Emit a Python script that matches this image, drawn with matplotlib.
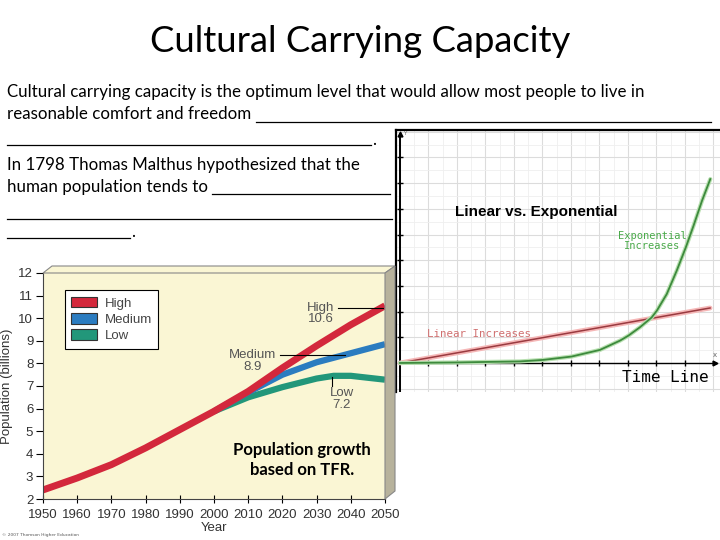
import matplotlib.pyplot as plt
from matplotlib.patches import Patch, Polygon
from matplotlib.lines import Line2D

# ---- data: population projections (billions) ----
years = [1950, 1960, 1970, 1980, 1990, 2000, 2010, 2020, 2030, 2040, 2050]
high = [2.4, 2.93, 3.52, 4.26, 5.07, 5.88, 6.76, 7.8, 8.78, 9.71, 10.55]
proj_years = [2000, 2010, 2020, 2030, 2035, 2040, 2050]
medium = [5.88, 6.72, 7.5, 8.05, 8.25, 8.45, 8.85]
low = [5.88, 6.5, 6.95, 7.33, 7.45, 7.45, 7.28]
scenarios = ['High', 'Medium', 'Low']
scen_colors = ['#d3283c', '#2b7cc0', '#22977a']

# ---- data: linear vs exponential sketch ----
lin_x = [0, 10.88]
lin_y = [0, 2.14]
exp_x = [0, 1, 2, 3, 4.21, 5.03, 6.02, 7.02, 7.72, 8.01, 8.42, 8.83, 9.01, 9.36,
         9.71, 10.03, 10.3, 10.6, 10.89]
exp_y = [0, 0.01, 0.02, 0.04, 0.06, 0.12, 0.25, 0.51, 0.87, 1.06, 1.39, 1.77, 2.03, 2.68,
         3.59, 4.5, 5.34, 6.32, 7.16]

W, H = 720, 540


def px(x, y):
    return (x / W, 1 - y / H)


def rect(l, t, r, b):
    return [l / W, 1 - b / H, (r - l) / W, (b - t) / H]


fig = plt.figure(figsize=(7.2, 5.4), dpi=100)
fig.patch.set_facecolor('white')

body = ['Lato', 'DejaVu Sans']
bsize = 12.2

# Title and text
fig.text(*px(360, 42), 'Cultural Carrying Capacity', family=body, fontsize=26.3,
         ha='center', va='center')
fig.text(*px(7, 92), 'Cultural carrying capacity is the optimum level that would allow most people to live in',
         family=body, fontsize=bsize, va='center')
fig.text(*px(7, 114), 'reasonable comfort and freedom', family=body, fontsize=bsize, va='center')
fig.text(*px(7, 165), 'In 1798 Thomas Malthus hypothesized that the', family=body, fontsize=bsize, va='center')
fig.text(*px(7, 187), 'human population tends to', family=body, fontsize=bsize, va='center')
fig.text(*px(372, 140), '.', family=body, fontsize=bsize, va='center')
fig.text(*px(131, 232), '.', family=body, fontsize=bsize, va='center')

blanks = [(256, 711, 122), (7, 371, 145), (212, 390, 194), (7, 392, 219), (7, 130, 238)]
for x0, x1, yy in blanks:
    fig.add_artist(Line2D([x0 / W, x1 / W], [1 - yy / H, 1 - yy / H], color='black', lw=0.9))

# ---- left chart ----
ax = fig.add_axes(rect(43, 273, 385, 499))
ax.set_facecolor('#faf6d4')

# 3D box faces
fig.add_artist(Polygon([px(43, 273), px(52, 266), px(395, 266), px(385, 273)],
                       closed=True, facecolor='#faf6d4', edgecolor='#888888', lw=0.8))
fig.add_artist(Polygon([px(385, 273), px(395, 266), px(395, 491), px(385, 499)],
                       closed=True, facecolor='#b7b29c', edgecolor='#888888', lw=0.8))

ax.plot(proj_years, low, color=scen_colors[2], lw=4.5, solid_capstyle='butt')
ax.plot(proj_years, medium, color=scen_colors[1], lw=4.5, solid_capstyle='butt')
ax.plot(years, high, color=scen_colors[0], lw=5, solid_capstyle='butt')

ax.set_xticks(years)
ax.set_yticks(range(2, 13))
ax.set_xlim(1950, 2050)
ax.set_ylim(2, 12)
for s in ['top', 'right']:
    ax.spines[s].set_visible(False)
for s in ['left', 'bottom']:
    ax.spines[s].set_color('#444444')
ax.tick_params(axis='y', direction='out', length=5, pad=2, labelsize=9.5, labelcolor='#333333')
ax.tick_params(axis='x', direction='inout', length=6, pad=4, labelsize=9.5, labelcolor='#333333')
for lab in ax.get_xticklabels() + ax.get_yticklabels():
    lab.set_family('Liberation Sans')
ax.set_xlabel('Year', family='Liberation Sans', fontsize=9.5, color='#333333', labelpad=1)
ax.set_ylabel('Population (billions)', family='Liberation Sans', fontsize=9.5,
              color='#333333', labelpad=4)

handles = [Patch(facecolor=c, edgecolor='#333333', lw=0.8) for c in scen_colors]
leg = ax.legend(handles, scenarios, loc='upper left', bbox_to_anchor=(0.064, 0.925),
                fancybox=False, edgecolor='black', framealpha=1,
                prop={'family': 'Liberation Sans', 'size': 9.5},
                handlelength=1.9, handleheight=0.9, borderpad=0.5, labelspacing=0.25,
                handletextpad=0.6, borderaxespad=0)
for t in leg.get_texts():
    t.set_color('#444444')
leg.get_frame().set_linewidth(0.8)

note = dict(family='Liberation Sans', fontsize=9.5, color='#555555', ha='center',
            va='center', linespacing=0.95)
ax.text(2031.3, 10.2, 'High\n10.6', **note)
ax.plot([2036.3, 2049.4], [10.45, 10.45], color='black', lw=0.8)
ax.text(2011.4, 8.1, 'Medium\n8.9', **note)
ax.plot([2019.3, 2038.3], [8.35, 8.35], color='black', lw=0.8)
ax.text(2037.4, 6.43, 'Low\n7.2', **note)
ax.plot([2034.5, 2034.5], [7.4, 7.0], color='black', lw=0.8)

fig.text(*px(302, 460), 'Population growth\nbased on TFR.', family=body, fontsize=12,
         fontweight='bold', ha='center', va='center', linespacing=1.3)
fig.text(*px(2, 535), '\u00a9 2007 Thomson Higher Education', family='DejaVu Sans',
         fontsize=3.2, color='#555555', va='center')

# ---- right chart ----
bx = fig.add_axes(rect(396, 130, 720, 392))
bx.set_facecolor('white')
bx.set_xticks(range(0, 12))
bx.set_yticks(range(-1, 10))
bx.set_xticks([i + 0.5 for i in range(-1, 12)], minor=True)
bx.set_yticks([i + 0.5 for i in range(-2, 10)], minor=True)
bx.set_xlim(-0.14, 11.23)
bx.set_ylim(-1.13, 9.07)
bx.grid(which='major', color='#dcdcdc', lw=0.8)
bx.grid(which='minor', color='#efefef', lw=0.6)
bx.tick_params(which='both', length=0, labelbottom=False, labelleft=False)
for s in ['right', 'bottom']:
    bx.spines[s].set_visible(False)
bx.spines['left'].set_linewidth(1.6)
bx.spines['top'].set_linewidth(1.6)

# axes with arrows
bx.plot([-0.05, 11.05], [0, 0], color='black', lw=1.0)
bx.plot([0, 0], [-1.13, 8.9], color='black', lw=1.4)
bx.plot([11.05], [0], marker='>', color='black', ms=3.5)
bx.plot([0], [8.9], marker='^', color='black', ms=3.5)
bx.plot(range(1, 11), [0] * 10, ls='none', marker='|', color='black', ms=5, mew=1)
bx.plot([0] * 8, range(1, 9), ls='none', marker='_', color='black', ms=5, mew=1)
bx.text(11.05, 0.2, 'x', fontsize=5, color='#666666', ha='center', va='bottom')
bx.text(0.12, 8.95, 'Y', fontsize=4, color='#666666', ha='left', va='center')

bx.plot(lin_x, lin_y, color='#f5b7b7', lw=3.5, solid_capstyle='round')
bx.plot(lin_x, lin_y, color='#9a3a40', lw=1.1)
bx.plot(exp_x, exp_y, color='#b8e0b0', lw=3, solid_capstyle='round', solid_joinstyle='round')
bx.plot(exp_x, exp_y, color='#3d8a3d', lw=1.3, solid_joinstyle='round')

bx.text(0.95, 1.13, 'Linear Increases', family='DejaVu Sans Mono', fontsize=7.8,
        color='#d07070', va='center')
bx.text(8.84, 4.73, 'Exponential\nIncreases', family='DejaVu Sans Mono', fontsize=7.5,
        color='#4aaa4a', ha='center', va='center', linespacing=1.0)
bx.text(1.93, 5.88, 'Linear vs. Exponential', family='Liberation Sans', fontsize=11,
        fontweight='bold', va='center')
bx.text(7.79, -0.58, 'Time Line', family='DejaVu Sans Mono', fontsize=11.5, va='center')

fig.savefig('out.png', dpi=100)
